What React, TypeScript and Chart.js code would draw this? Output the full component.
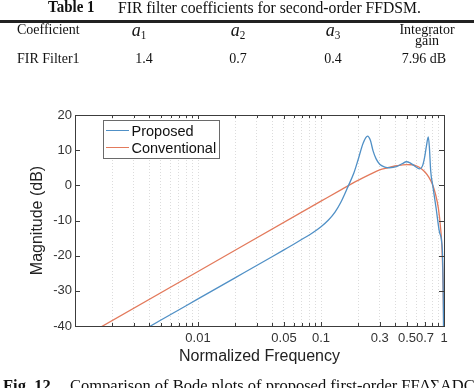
import React, { useEffect, useRef } from "react";
import { Chart, registerables } from "chart.js";

Chart.register(...registerables);

// ---------------- data ----------------
const seriesNames = ["Proposed", "Conventional"];
const seriesColors = ["#5090c6", "#e37a5c"];

const proposedFreq = [0.001, 0.002, 0.005, 0.01, 0.02, 0.03, 0.04, 0.05, 0.06, 0.07, 0.085, 0.1, 0.115, 0.13, 0.145, 0.166, 0.185, 0.2, 0.22, 0.239, 0.252, 0.265, 0.28, 0.3, 0.33, 0.36, 0.41, 0.46, 0.494, 0.53, 0.577, 0.634, 0.67, 0.696, 0.72, 0.745, 0.76, 0.78, 0.81, 0.865, 0.92, 0.97, 0.985, 0.995, 1];
const proposedMag = [-52.3, -46.3, -38.3, -32.3, -26.3, -22.8, -20.3, -18.35, -16.75, -15.35, -13.55, -11.75, -9.85, -7.6, -4.8, -0.3, 3.5, 7.2, 12.0, 14.0, 12.8, 9.8, 7.6, 6.0, 5.2, 5.0, 5.3, 6.2, 6.7, 6.4, 5.5, 4.7, 5.6, 8.0, 11.2, 13.8, 11.0, 4.0, 0.0, -6.8, -13.4, -18.5, -30, -45, -60];

const conventionalFreq = [0.001, 0.01, 0.1, 0.15, 0.2, 0.25, 0.3, 0.35, 0.4, 0.45, 0.5, 0.55, 0.6, 0.65, 0.7, 0.75, 0.8, 0.85, 0.9, 0.94, 0.96, 0.98, 0.99, 0.997, 1];
const conventionalMag = [-44.5, -24.5, -4.5, -1.0, 1.4, 3.1, 4.4, 5.0, 5.5, 5.75, 5.9, 5.85, 5.5, 4.8, 3.8, 2.4, 0.5, -2.3, -6.5, -12.5, -17, -26, -35, -50, -70];

const xTickLabels = [0.01, 0.05, 0.1, 0.3, 0.5, 0.7, 1];
const yTickValues = [-40, -30, -20, -10, 0, 10, 20];

const tableLabel = "Table 1";
const tableTitle = "FIR filter coefficients for second-order FFDSM.";
const tableRowName = "FIR Filter1";
const tableCoefNames = ["1", "2", "3"];
const tableCoefValues = ["1.4", "0.7", "0.4"];
const tableGain = "7.96 dB";

const captionLabel = "Fig. 12";
const captionText = "Comparison of Bode plots of proposed first-order FF\u0394\u03A3ADC";

// minor grid positions for the log axis (1..9 x each decade)
const xGridValues: number[] = [];
for (let k = -3; k <= -1; k++) {
  for (let m = 1; m <= 9; m++) xGridValues.push(Number((m * Math.pow(10, k)).toPrecision(2)));
}
xGridValues.push(1);

const SANS = '"Liberation Sans", Arial, Helvetica, sans-serif';
const SERIF = '"Liberation Serif", "Times New Roman", serif';

const isLabeled = (v: number) => xTickLabels.some((l) => Math.abs(l - v) < 1e-9);

const framePlugin = {
  id: "frame",
  afterDatasetsDraw(chart: any) {
    const { ctx, chartArea: a, scales } = chart;
    const x = scales.x;
    const y = scales.y;
    ctx.save();
    ctx.strokeStyle = "#3c3c3c";
    ctx.lineWidth = 1;
    ctx.beginPath();
    for (const v of xGridValues) {
      const px = Math.round(x.getPixelForValue(v)) + 0.5;
      const len = isLabeled(v) ? 4 : 3;
      ctx.moveTo(px, a.bottom);
      ctx.lineTo(px, a.bottom - len);
      ctx.moveTo(px, a.top);
      ctx.lineTo(px, a.top + len);
    }
    for (const v of yTickValues) {
      const py = Math.round(y.getPixelForValue(v)) + 0.5;
      ctx.moveTo(a.left, py);
      ctx.lineTo(a.left + 5, py);
      ctx.moveTo(a.right, py);
      ctx.lineTo(a.right - 5, py);
    }
    ctx.stroke();
    ctx.strokeRect(Math.round(a.left) + 0.5, Math.round(a.top) + 0.5, Math.round(a.right - a.left), Math.round(a.bottom - a.top));

    // legend box inside the plot
    const lx = 103.5, ly = 120.5, lw = 116, lh = 38;
    ctx.fillStyle = "#ffffff";
    ctx.fillRect(lx, ly, lw, lh);
    ctx.strokeStyle = "#6a6a6a";
    ctx.strokeRect(lx, ly, lw, lh);
    ctx.font = `14.5px ${SANS}`;
    ctx.textBaseline = "alphabetic";
    ctx.textAlign = "left";
    chart.data.datasets.forEach((ds: any, i: number) => {
      const rowY = i === 0 ? 130 : 147;
      ctx.strokeStyle = ds.borderColor;
      ctx.lineWidth = 1;
      ctx.beginPath();
      ctx.moveTo(106, rowY + 0.5);
      ctx.lineTo(129, rowY + 0.5);
      ctx.stroke();
      ctx.fillStyle = "#111";
      ctx.fillText(ds.label, 131.5, i === 0 ? 136 : 152.5);
    });
    ctx.restore();
  },
};

function T(props: { x: number; y: number; size: number; align?: string; bold?: boolean; children: any }) {
  const { x, y, size, align = "left", bold = false, children } = props;
  const tx = align === "center" ? "-50%" : align === "right" ? "-100%" : "0";
  return (
    <div
      style={{
        position: "absolute",
        left: x,
        top: y - 0.8375 * size,
        fontSize: size,
        lineHeight: `${size}px`,
        fontFamily: SERIF,
        fontWeight: bold ? 700 : 400,
        whiteSpace: "nowrap",
        color: "#111",
        transform: `translateX(${tx}) scaleY(1.07)`,
        transformOrigin: "50% 84%",
      }}
    >
      {children}
    </div>
  );
}

export default function App() {
  const canvasRef = useRef<HTMLCanvasElement | null>(null);

  useEffect(() => {
    document.body.style.margin = "0";
    const canvas = canvasRef.current;
    if (!canvas) return;
    const chart = new Chart(canvas, {
      type: "line",
      data: {
        datasets: [
          {
            label: seriesNames[0],
            data: proposedFreq.map((f, i) => ({ x: f, y: proposedMag[i] })),
            borderColor: seriesColors[0],
            borderWidth: 1.3,
            pointRadius: 0,
            cubicInterpolationMode: "monotone",
            fill: false,
          },
          {
            label: seriesNames[1],
            data: conventionalFreq.map((f, i) => ({ x: f, y: conventionalMag[i] })),
            borderColor: seriesColors[1],
            borderWidth: 1.3,
            pointRadius: 0,
            cubicInterpolationMode: "monotone",
            fill: false,
          },
        ],
      },
      options: {
        animation: false,
        responsive: false,
        devicePixelRatio: 1,
        layout: { padding: { top: 115, right: 30, left: 0, bottom: 0 } },
        plugins: { legend: { display: false }, tooltip: { enabled: false }, title: { display: false } },
        scales: {
          x: {
            type: "logarithmic",
            min: 0.001,
            max: 1,
            afterBuildTicks: (s: any) => {
              s.ticks = xGridValues.map((v) => ({ value: v }));
            },
            afterFit: (s: any) => {
              s.height = 62;
            },
            ticks: {
              autoSkip: false,
              maxRotation: 0,
              minRotation: 0,
              padding: 5,
              color: "#333",
              font: { family: SANS, size: 13 },
              callback: (v: any) => {
                const n = Number(v);
                const l = xTickLabels.find((t) => Math.abs(t - n) < 1e-9);
                return l === undefined ? "" : String(l);
              },
            },
            grid: { color: "#dcdcdc", lineWidth: 1, drawTicks: false },
            border: { display: false, dash: [1, 2] },
            title: {
              display: true,
              text: "Normalized Frequency",
              color: "#222",
              font: { family: SANS, size: 16 },
              padding: { top: 0, bottom: 21.4 },
            },
          },
          y: {
            type: "linear",
            min: -40,
            max: 20,
            afterFit: (s: any) => {
              s.width = 75;
            },
            ticks: {
              stepSize: 10,
              padding: 3,
              color: "#333",
              font: { family: SANS, size: 13 },
            },
            grid: { display: false, drawTicks: false },
            border: { display: false },
            title: {
              display: true,
              text: "Magnitude (dB)",
              color: "#222",
              font: { family: SANS, size: 16 },
              padding: { top: 28, bottom: 0 },
            },
          },
        },
      } as any,
      plugins: [framePlugin],
    });
    return () => chart.destroy();
  }, []);

  const coefCenters = [139, 238, 333];

  return (
    <div style={{ position: "fixed", left: 0, top: 0, width: 474, height: 388, overflow: "hidden", background: "#fff" }}>
      <canvas ref={canvasRef} width={474} height={388} style={{ position: "absolute", left: 0, top: 0, display: "block" }} />
      <T x={48} y={13} size={15} bold>{tableLabel}</T>
      <T x={118} y={13} size={15.7}>{tableTitle}</T>
      <div style={{ position: "absolute", left: 0, top: 20, width: 474, height: 2.5, background: "#222" }} />
      <T x={17} y={35} size={14}>Coefficient</T>
      {tableCoefNames.map((n, i) => (
        <T key={n} x={coefCenters[i]} y={36.5} size={18} align="center">
          <i>a</i>
          <sub style={{ fontSize: "0.62em", lineHeight: 0, verticalAlign: "-0.25em" }}>{n}</sub>
        </T>
      ))}
      <T x={427} y={34.5} size={14} align="center">Integrator</T>
      <T x={427} y={46} size={14} align="center">gain</T>
      <T x={17} y={63.3} size={14}>{tableRowName}</T>
      {tableCoefValues.map((v, i) => (
        <T key={i} x={[144, 238, 333][i]} y={63.3} size={14} align="center">{v}</T>
      ))}
      <T x={424} y={63.3} size={14} align="center">{tableGain}</T>
      <T x={3} y={391.5} size={16.5} bold>{captionLabel}</T>
      <T x={70} y={391.5} size={16.5}>{captionText}</T>
    </div>
  );
}
